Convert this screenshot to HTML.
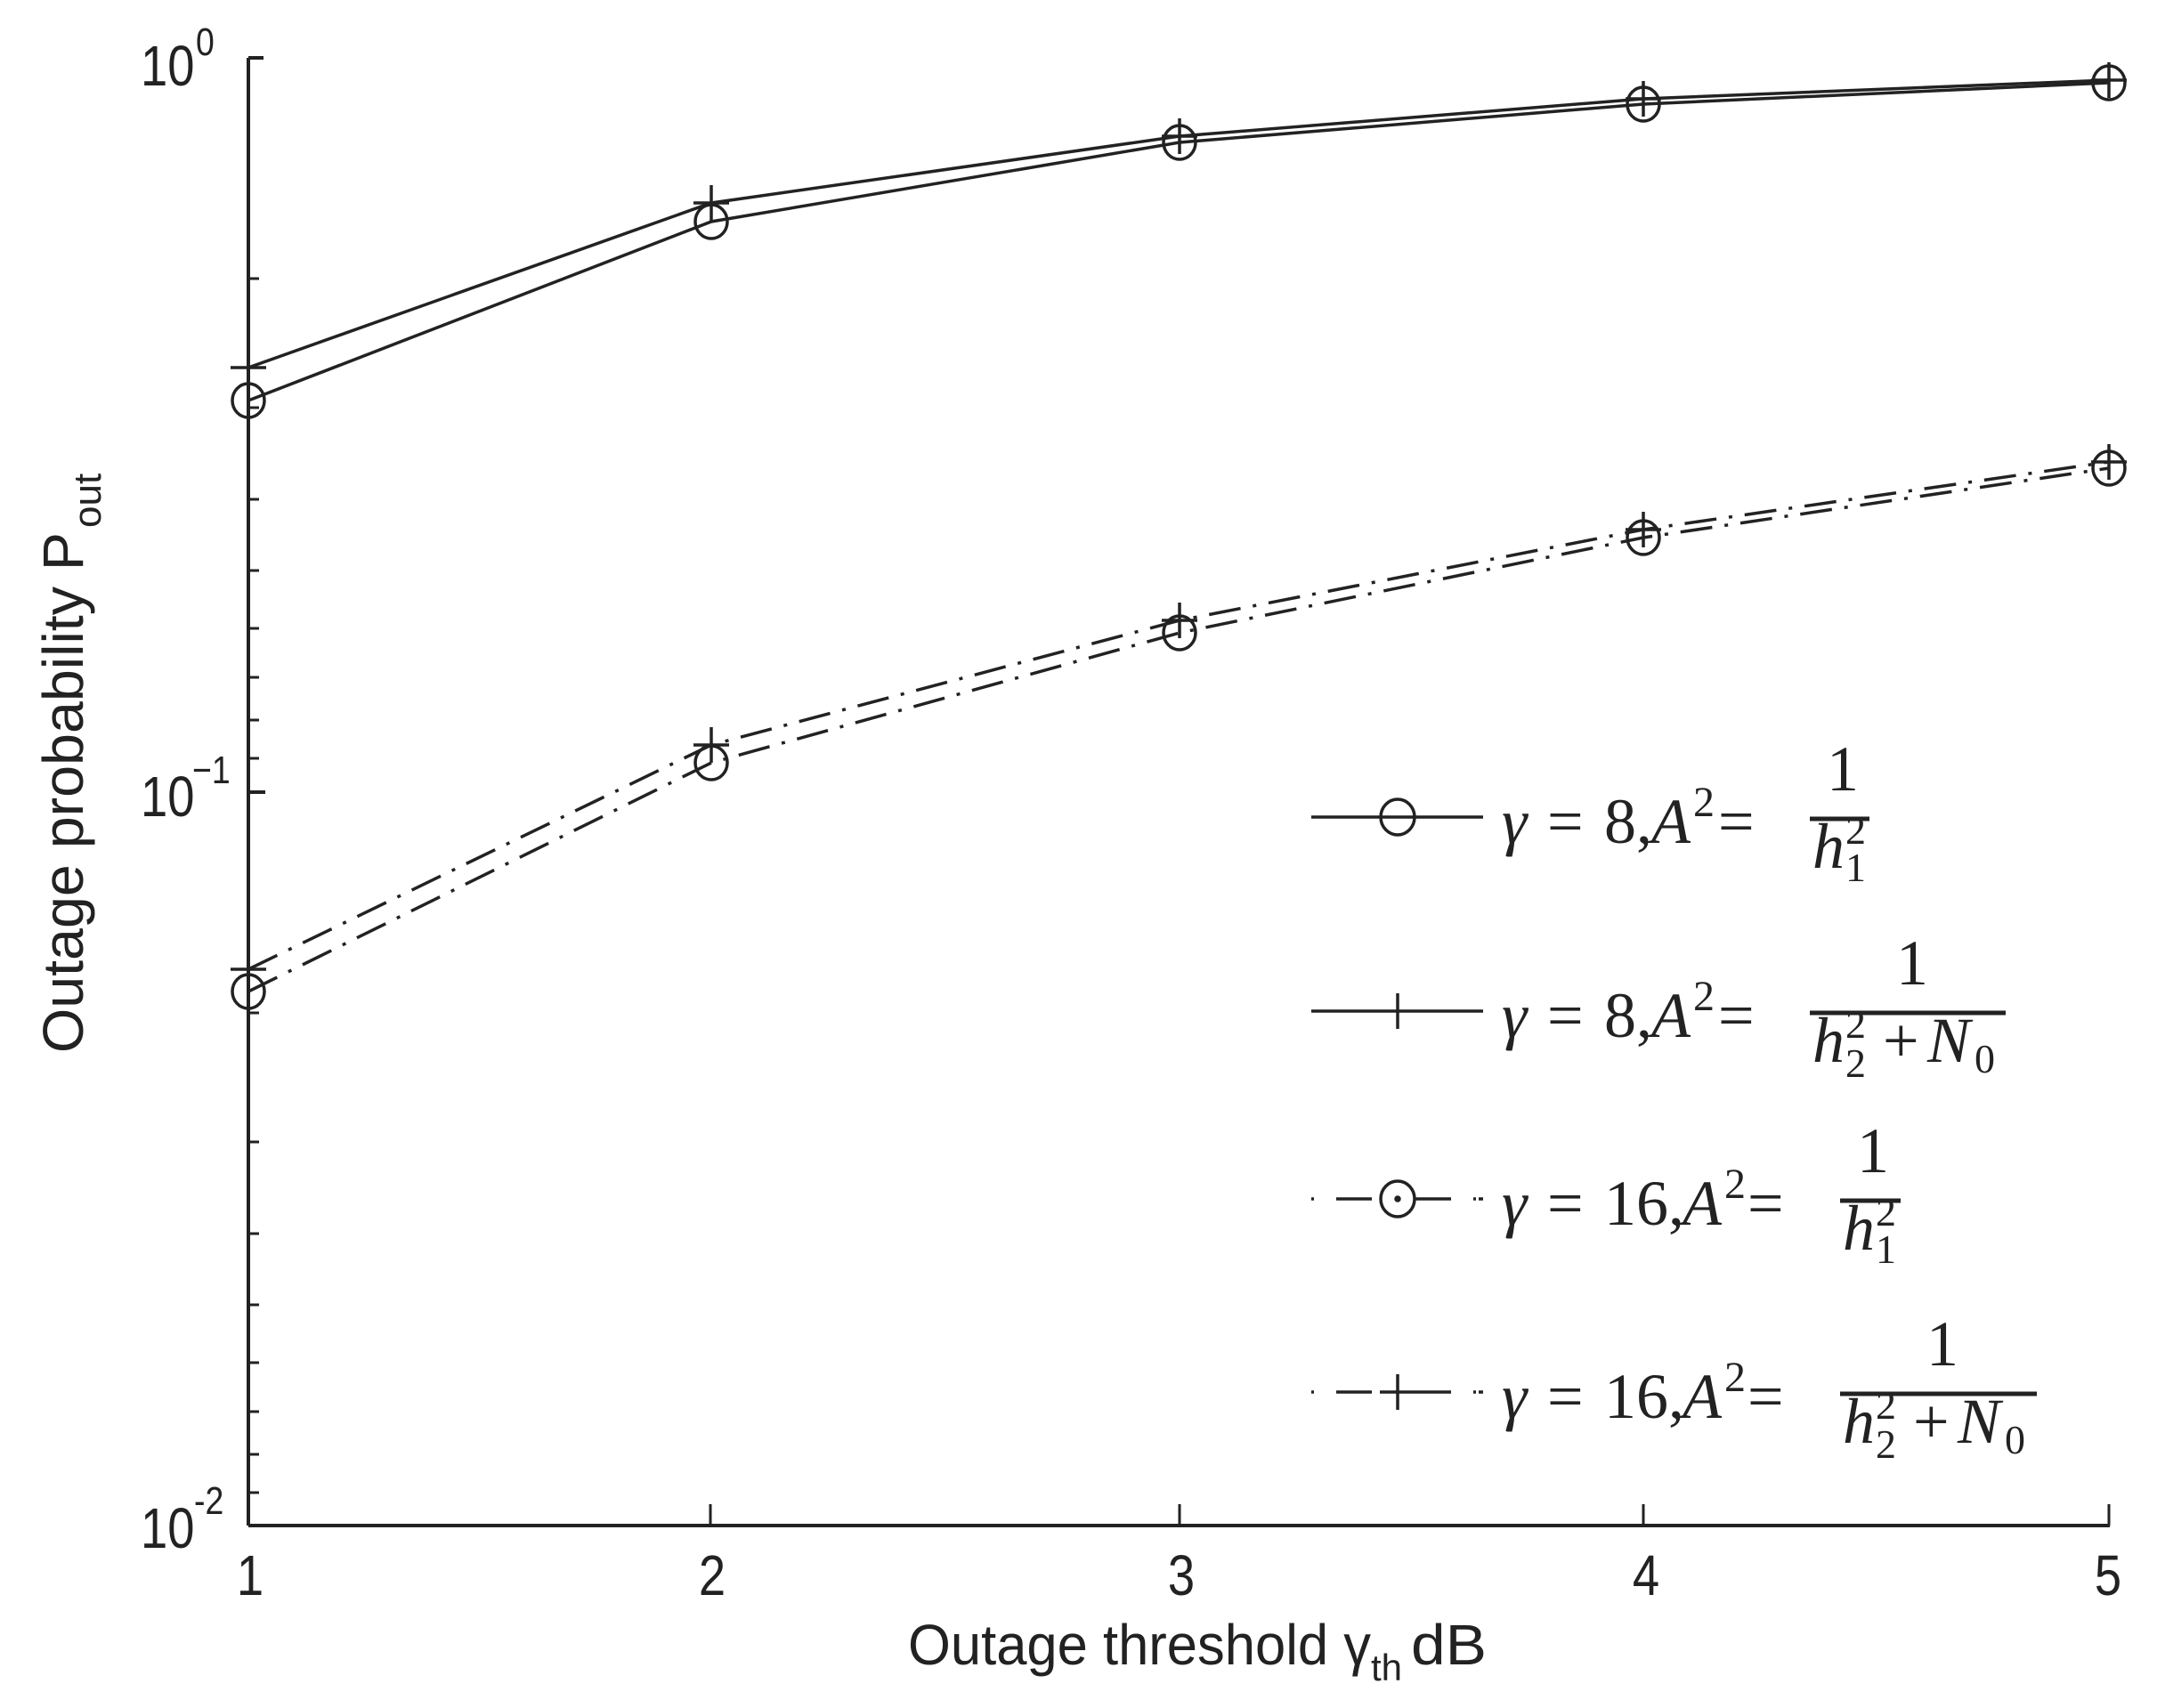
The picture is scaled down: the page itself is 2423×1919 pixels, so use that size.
<!DOCTYPE html>
<html><head><meta charset="utf-8"><style>
html,body{margin:0;padding:0;background:#fff;}
svg{display:block;}
.t{font-family:"Liberation Sans",sans-serif;fill:#222;}
.m{font-family:"Liberation Serif",serif;fill:#222;}
</style></head><body>
<svg width="2423" height="1919" viewBox="0 0 2423 1919" xmlns="http://www.w3.org/2000/svg">
<g stroke="#222" stroke-width="4" fill="none">
<line x1="279" y1="65" x2="279" y2="1714"/>
<line x1="279" y1="1714" x2="2370" y2="1714"/>
<line x1="279" y1="65" x2="296" y2="65"/>
<line x1="279" y1="890" x2="298" y2="890"/>
</g>
<g stroke="#222" stroke-width="3">
<line x1="279" y1="313" x2="291" y2="313"/>
<line x1="279" y1="458" x2="291" y2="458"/>
<line x1="279" y1="561" x2="291" y2="561"/>
<line x1="279" y1="641" x2="291" y2="641"/>
<line x1="279" y1="706" x2="291" y2="706"/>
<line x1="279" y1="761" x2="291" y2="761"/>
<line x1="279" y1="809" x2="291" y2="809"/>
<line x1="279" y1="852" x2="291" y2="852"/>
<line x1="279" y1="1138" x2="291" y2="1138"/>
<line x1="279" y1="1283" x2="291" y2="1283"/>
<line x1="279" y1="1386" x2="291" y2="1386"/>
<line x1="279" y1="1466" x2="291" y2="1466"/>
<line x1="279" y1="1531" x2="291" y2="1531"/>
<line x1="279" y1="1586" x2="291" y2="1586"/>
<line x1="279" y1="1634" x2="291" y2="1634"/>
<line x1="279" y1="1677" x2="291" y2="1677"/>
<line x1="798" y1="1714" x2="798" y2="1690"/>
<line x1="1325" y1="1714" x2="1325" y2="1690"/>
<line x1="1846" y1="1714" x2="1846" y2="1690"/>
<line x1="2369" y1="1714" x2="2369" y2="1690"/>
</g>

<g stroke="#222" stroke-width="3.5" fill="none">
<polyline points="279,450 799,249 1325,160 1846,117 2369,93"/>
<polyline points="279,413 799,228 1325,153 1846,111 2369,90"/>
<polyline points="279,1114 799,857 1325,711 1846,604 2369,526" stroke-dasharray="36 14 4 14"/>
<polyline points="279,1089 799,837 1325,697 1846,595 2369,519" stroke-dasharray="36 14 4 14"/>
</g>
<g stroke="#222" stroke-width="3.5" fill="none">
<ellipse cx="279" cy="450" rx="18" ry="19"/>
<ellipse cx="799" cy="249" rx="18" ry="19"/>
<ellipse cx="1325" cy="160" rx="18" ry="19"/>
<ellipse cx="1846" cy="117" rx="18" ry="19"/>
<ellipse cx="2369" cy="93" rx="18" ry="19"/>
<ellipse cx="279" cy="1114" rx="18" ry="19"/>
<ellipse cx="799" cy="857" rx="18" ry="19"/>
<ellipse cx="1325" cy="711" rx="18" ry="19"/>
<ellipse cx="1846" cy="604" rx="18" ry="19"/>
<ellipse cx="2369" cy="526" rx="18" ry="19"/>
<path d="M259 413h40M279 393v40 M779 228h40M799 208v40 M1305 153h40M1325 133v40 M1826 111h40M1846 91v40 M2349 90h40M2369 70v40"/>
<path d="M259 1089h40M279 1069v40 M779 837h40M799 817v40 M1305 697h40M1325 677v40 M1826 595h40M1846 575v40 M2349 519h40M2369 499v40"/>
</g>

<g class="t">
<text font-size="64" transform="translate(158,96) scale(0.85,1)">10</text>
<text font-size="44" transform="translate(220,62) scale(0.85,1)">0</text>
<text font-size="64" transform="translate(158,917) scale(0.85,1)">10</text>
<text font-size="44" transform="translate(216,880) scale(0.85,1)">−1</text>
<text font-size="64" transform="translate(158,1739) scale(0.85,1)">10</text>
<text font-size="44" transform="translate(218,1701) scale(0.85,1)">-2</text>
<g text-anchor="middle" font-size="64">
<text transform="translate(281,1792) scale(0.85,1)">1</text>
<text transform="translate(800,1792) scale(0.85,1)">2</text>
<text transform="translate(1327,1792) scale(0.85,1)">3</text>
<text transform="translate(1849,1792) scale(0.85,1)">4</text>
<text transform="translate(2368,1792) scale(0.85,1)">5</text>
</g>
</g>
<text class="t" x="1020" y="1870" font-size="64" textLength="520" lengthAdjust="spacingAndGlyphs">Outage threshold γ</text>
<text class="t" x="1540" y="1888" font-size="42">th</text>
<text class="t" x="1585" y="1870" font-size="64" textLength="85" lengthAdjust="spacingAndGlyphs">dB</text>
<g transform="translate(93,1183) rotate(-90)">
<text class="t" x="0" y="0" font-size="64" textLength="585" lengthAdjust="spacingAndGlyphs">Outage probability P</text>
<text class="t" x="590" y="20" font-size="44">out</text>
</g>

<g stroke="#222" stroke-width="3.5" fill="none">
<line x1="1473" y1="918" x2="1666" y2="918"/>
<ellipse cx="1570" cy="918" rx="19" ry="20"/>
<line x1="1473" y1="1136" x2="1666" y2="1136"/>
<path d="M1570 1116v40"/>
<line x1="1473" y1="1347" x2="1666" y2="1347" stroke-dasharray="3 25 40 3 0 46 40 25 3"/>
<ellipse cx="1570" cy="1347" rx="19" ry="20"/>
<circle cx="1570" cy="1347" r="2" fill="#222"/>
<line x1="1473" y1="1564" x2="1666" y2="1564" stroke-dasharray="3 25 40 3 0 46 40 25 3"/>
<path d="M1550 1564h40M1570 1544v40"/>
</g>
<g class="m" font-size="72">
<text x="1687" y="947" font-style="italic">γ</text><text x="1738" y="947">=</text><text x="1802" y="947">8,</text>
<text x="1855" y="947" font-style="italic">A</text><text x="1902" y="917" font-size="48">2</text><text x="1930" y="947">=</text>
<text x="2052" y="888">1</text>
<text x="2036" y="975" font-style="italic">h</text><text x="2073" y="948" font-size="46">2</text><text x="2073" y="990" font-size="46">1</text>

<text x="1687" y="1165" font-style="italic">γ</text><text x="1738" y="1165">=</text><text x="1802" y="1165">8,</text>
<text x="1855" y="1165" font-style="italic">A</text><text x="1902" y="1135" font-size="48">2</text><text x="1930" y="1165">=</text>
<text x="2130" y="1106">1</text>
<text x="2036" y="1193" font-style="italic">h</text><text x="2073" y="1166" font-size="46">2</text><text x="2073" y="1210" font-size="46">2</text>
<text x="2115" y="1193">+</text><text x="2165" y="1193" font-style="italic">N</text><text x="2218" y="1205" font-size="46">0</text>

<text x="1687" y="1376" font-style="italic">γ</text><text x="1738" y="1376">=</text><text x="1802" y="1376">16,</text>
<text x="1890" y="1376" font-style="italic">A</text><text x="1937" y="1346" font-size="48">2</text><text x="1963" y="1376">=</text>
<text x="2086" y="1317">1</text>
<text x="2070" y="1404" font-style="italic">h</text><text x="2107" y="1377" font-size="46">2</text><text x="2107" y="1419" font-size="46">1</text>

<text x="1687" y="1593" font-style="italic">γ</text><text x="1738" y="1593">=</text><text x="1802" y="1593">16,</text>
<text x="1890" y="1593" font-style="italic">A</text><text x="1937" y="1563" font-size="48">2</text><text x="1963" y="1593">=</text>
<text x="2164" y="1534">1</text>
<text x="2070" y="1621" font-style="italic">h</text><text x="2107" y="1594" font-size="46">2</text><text x="2107" y="1638" font-size="46">2</text>
<text x="2149" y="1621">+</text><text x="2199" y="1621" font-style="italic">N</text><text x="2252" y="1633" font-size="46">0</text>
</g>
<g stroke="#222" stroke-width="5">
<line x1="2033" y1="920" x2="2100" y2="920"/>
<line x1="2033" y1="1138" x2="2253" y2="1138"/>
<line x1="2067" y1="1349" x2="2135" y2="1349"/>
<line x1="2067" y1="1566" x2="2288" y2="1566"/>
</g>
</svg>
</body></html>
